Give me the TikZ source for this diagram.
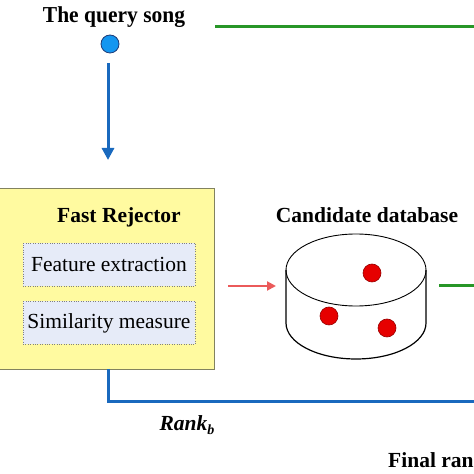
\documentclass[tikz,border=0pt]{standalone}
\usepackage{fontspec}
\setmainfont{Liberation Serif}
\usetikzlibrary{arrows.meta}
\definecolor{lgreen}{RGB}{40,150,40}
\definecolor{lblue}{RGB}{25,105,190}
\definecolor{qfill}{RGB}{20,150,240}
\definecolor{qdraw}{RGB}{30,60,120}
\definecolor{ybox}{RGB}{255,250,160}
\definecolor{ydraw}{RGB}{130,130,95}
\definecolor{ibox}{RGB}{230,235,248}
\definecolor{rarrow}{RGB}{235,90,90}
\definecolor{rdot}{RGB}{230,0,0}
\definecolor{rdotd}{RGB}{150,0,0}
\tikzset{
  bigtxt/.style={font=\fontsize{21.5}{24}\selectfont\bfseries, inner sep=0pt},
  regtxt/.style={font=\fontsize{21.5}{24}\selectfont, inner sep=0pt},
  innerbox/.style={draw=gray, dotted, fill=ibox, minimum width=172pt, minimum height=43pt, inner sep=0pt},
  reddot/.style={circle, fill=rdot, draw=rdotd, line width=0.6pt, minimum size=18pt, inner sep=0pt},
  blueline/.style={lblue, line width=3pt},
  greenline/.style={lgreen, line width=3pt},
}
\begin{document}
\begin{tikzpicture}[x=1pt,y=1pt]
\useasboundingbox (0,0) rectangle (474,474);
\begin{scope}
\clip (0,0) rectangle (474,474);
% query
\node[bigtxt] (qtxt) at (114,457) {\scalebox{1}[1.06]{The query song}};
\node[circle, fill=qfill, draw=qdraw, line width=0.8pt, minimum size=18pt, inner sep=0pt] (q) at (110,430) {};
\coordinate (qend) at (108,314);
\coordinate (qstart) at (108,411);
\draw[blueline, -{Triangle[length=12pt,width=12pt]}] (qstart) -- (qend);
% green top line
\coordinate (g1) at (215,447);
\coordinate (g2) at (480,447);
\draw[greenline] (g1) -- (g2);
% yellow box
\node[draw=ydraw, fill=ybox, line width=0.8pt, minimum width=225pt, minimum height=181pt, inner sep=0pt, anchor=north east] (fr) at (215,286) {};
\node[bigtxt] (frt) at (119,257) {Fast Rejector};
\node[innerbox, regtxt] (fe) at (109,209.5) {Feature extraction};
\node[innerbox, regtxt] (sm) at (109,151) {Similarity measure};
% blue bottom line
\coordinate (b1) at (108,105);
\coordinate (b2) at (108,72);
\coordinate (b3) at (480,72);
\draw[blueline] (b1) -- (b2) -- (b3);
\node[font=\fontsize{21.5}{24}\selectfont\bfseries\itshape, inner sep=0pt] (rk) at (187,49) {Rank\raisebox{-0.35ex}{\fontsize{14}{14}\selectfont b}};
\node[bigtxt, anchor=west] (fin) at (388,14) {Final ran};
% candidate database
\node[bigtxt] (cdt) at (367,259) {Candidate database};
\coordinate (ra1) at (228,188);
\coordinate (ra2) at (276,188);
\draw[rarrow, line width=2pt, -{Triangle[length=9pt,width=9pt]}] (ra1) -- (ra2);
\fill[white] (286,204) -- (286,151) arc[start angle=180,end angle=360,x radius=70,y radius=36] -- (426,204) arc[start angle=0,end angle=180,x radius=70,y radius=36] -- cycle;
\draw[line width=1.2pt] (286,204) -- (286,151) arc[start angle=180,end angle=360,x radius=70,y radius=36] -- (426,204);
\draw[line width=0.9pt] (356,204) ellipse[x radius=70,y radius=36];
\node[reddot] (d1) at (372,201) {};
\node[reddot] (d2) at (329,158) {};
\node[reddot] (d3) at (387,146) {};
\coordinate (gr1) at (439,188);
\coordinate (gr2) at (480,188);
\draw[greenline] (gr1) -- (gr2);
\end{scope}
\end{tikzpicture}
\end{document}
